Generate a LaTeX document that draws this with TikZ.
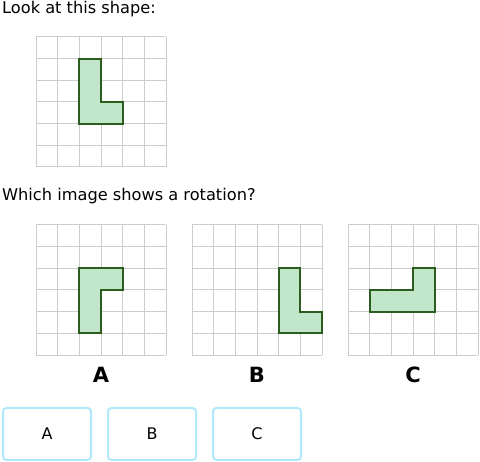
\documentclass[tikz,border=0pt]{standalone}
\usepackage{fontspec}
\setmainfont{DejaVu Sans}
\definecolor{gridgray}{HTML}{CCCCCC}
\definecolor{shapefill}{HTML}{C1E6C9}
\definecolor{shapeline}{HTML}{2B5E1E}
\definecolor{btnline}{HTML}{AEE8FA}
\newcommand{\cellsz}{21.667}
\newcommand{\drawmygrid}[2]{%
  \foreach \i in {0,...,6} {
    \draw[gridline] ({#1+\i*\cellsz},#2) -- ({#1+\i*\cellsz},{#2+130});
    \draw[gridline] (#1,{#2+\i*\cellsz}) -- ({#1+130},{#2+\i*\cellsz});
  }}
\tikzset{
  gridline/.style={draw=gridgray, line width=1pt},
  lshape/.style={fill=shapefill, draw=shapeline, line width=2pt, line join=miter},
  qtext/.style={inner sep=0pt, anchor=base west, font=\fontsize{16.2}{19}\selectfont},
  optlabel/.style={inner sep=0pt, anchor=base, font=\fontsize{21}{24}\selectfont\bfseries},
  btn/.style={draw=btnline, line width=2pt, rounded corners=3.5pt, fill=white, minimum width=88pt, minimum height=52pt, inner sep=0pt, font=\fontsize{16}{19}\selectfont}
}
\begin{document}
\begin{tikzpicture}[x=1pt,y=-1pt]
\useasboundingbox (0,0) rectangle (480,462);
\node[qtext] (q1) at (2,14) {Look at this shape:};
% top grid
\drawmygrid{36}{37}
\begin{scope}[shift={(36,37)}, x=\cellsz pt, y=-\cellsz pt]
  \draw[lshape] (2,1) -- (3,1) -- (3,3) -- (4,3) -- (4,4) -- (2,4) -- cycle;
\end{scope}
\node[qtext] (q2) at (2,201) {Which image shows a rotation?};
% option grids
\drawmygrid{36}{225}
\drawmygrid{192}{225}
\drawmygrid{348}{225}
\begin{scope}[shift={(36,225)}, x=\cellsz pt, y=-\cellsz pt]
  \draw[lshape] (2,2) -- (4,2) -- (4,3) -- (3,3) -- (3,5) -- (2,5) -- cycle;
\end{scope}
\begin{scope}[shift={(192,225)}, x=\cellsz pt, y=-\cellsz pt]
  \draw[lshape] (4,2) -- (5,2) -- (5,4) -- (6,4) -- (6,5) -- (4,5) -- cycle;
\end{scope}
\begin{scope}[shift={(348,225)}, x=\cellsz pt, y=-\cellsz pt]
  \draw[lshape] (1,3) -- (3,3) -- (3,2) -- (4,2) -- (4,4) -- (1,4) -- cycle;
\end{scope}
\node[optlabel] (la) at (101,383) {A};
\node[optlabel] (lb) at (257,383) {B};
\node[optlabel] (lc) at (413,383) {C};
% answer buttons
\node[btn] (ba) at (47,434) {A};
\node[btn] (bb) at (152,434) {B};
\node[btn] (bc) at (257,434) {C};
\end{tikzpicture}
\end{document}
